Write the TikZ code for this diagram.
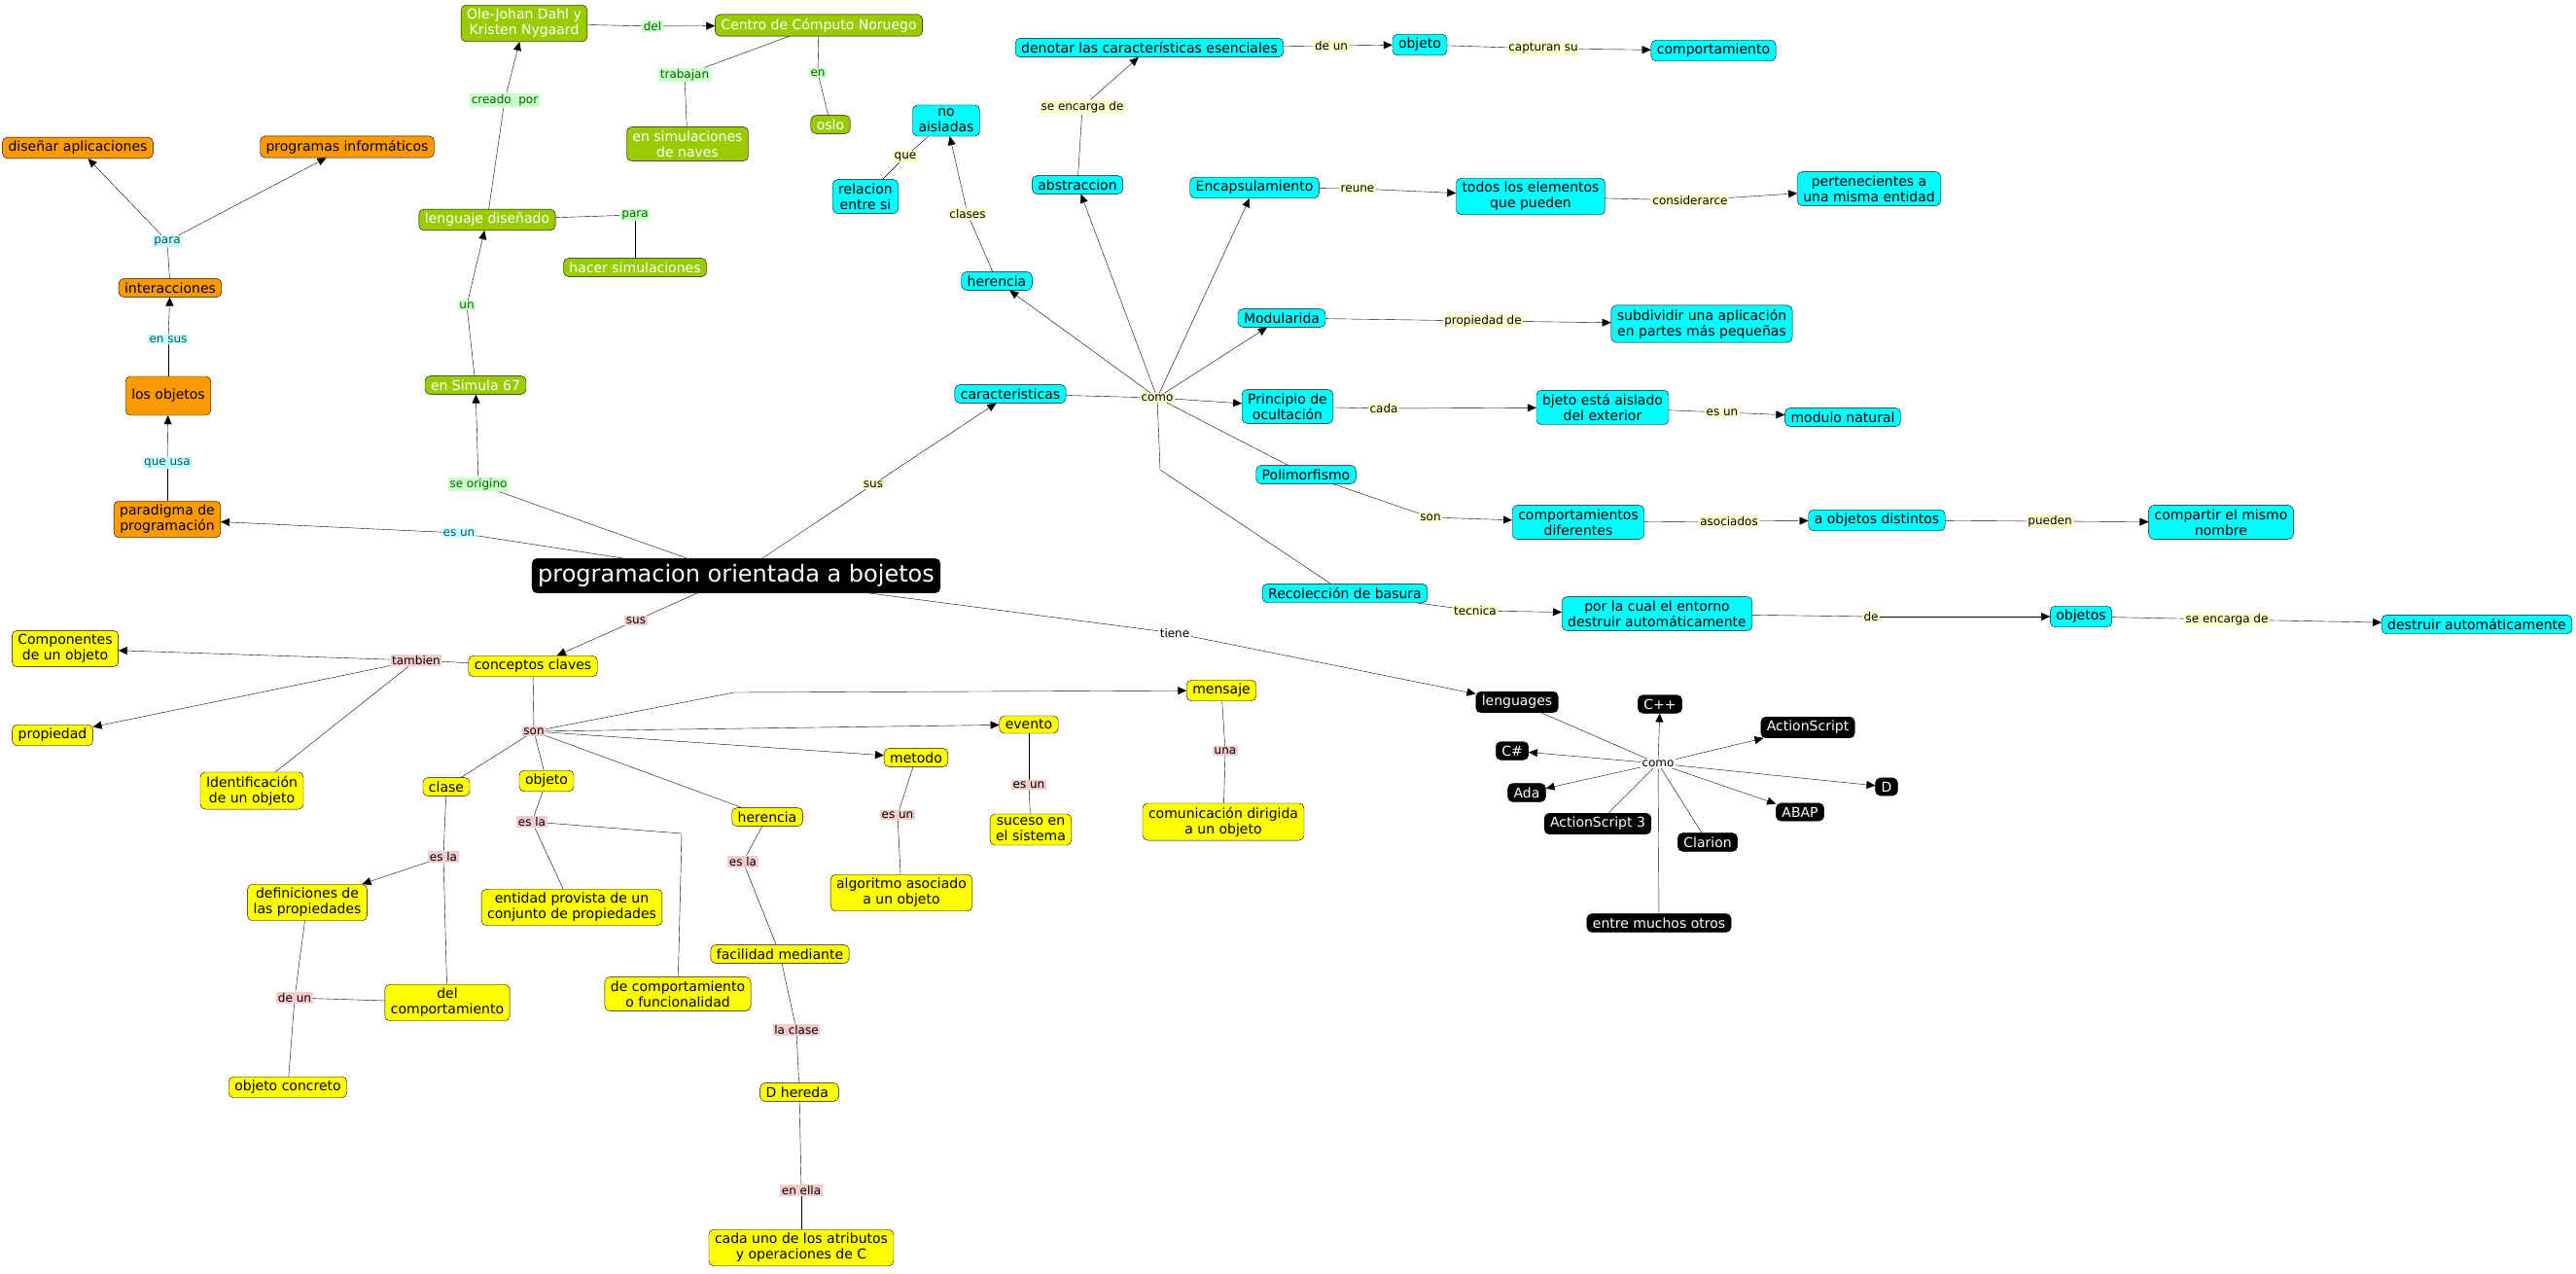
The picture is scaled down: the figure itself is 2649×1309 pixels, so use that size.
\documentclass[tikz,border=0pt]{standalone}
\usepackage{fontspec}
\setmainfont{DejaVu Sans}
\usetikzlibrary{positioning,arrows.meta}
\definecolor{cmcyan}{RGB}{0,255,255}
\definecolor{cmyellow}{RGB}{255,255,0}
\definecolor{cmorange}{RGB}{255,153,0}
\definecolor{cmgreen}{RGB}{153,204,0}
\definecolor{lblyellow}{RGB}{255,255,204}
\definecolor{lblpink}{RGB}{245,204,204}
\definecolor{lblcyan}{RGB}{204,255,255}
\definecolor{lblgreen}{RGB}{204,255,204}
\begin{document}
\begin{tikzpicture}
  [x=1pt,y=-1pt,>={Triangle[length=9pt,width=8pt]},
  base/.style={rounded corners=5pt,draw=black,align=center,inner xsep=6pt,inner ysep=4pt,font=\fontsize{14}{16}\selectfont},
  cyanc/.style={base,fill=cmcyan},
  yellowc/.style={base,fill=cmyellow},
  orangec/.style={base,fill=cmorange},
  greenc/.style={base,fill=cmgreen,text=white},
  blackc/.style={base,fill=black,text=white},
  lbl/.style={inner sep=1.5pt,font=\fontsize{12}{14}\selectfont},
  lc/.style={lbl,fill=lblyellow},
  ly/.style={lbl,fill=lblpink},
  lo/.style={lbl,fill=lblcyan,text=teal!70!black},
  lg/.style={lbl,fill=lblgreen,text=green!40!black}]
  \useasboundingbox (0,0) rectangle (2649,1309);

  \node [blackc,font=\fontsize{24}{27}\selectfont,inner ysep=6pt] (main) at (757,592) {programacion orientada a bojetos};

  % orange
  \node [orangec] (paradigma) at (172,534) {paradigma de\\programación};
  \node [orangec,minimum height=40pt] (objetos) at (173,407) {los objetos};
  \node [orangec] (interacciones) at (175,296) {interacciones};
  \node [orangec] (disenar) at (80,152) {diseñar aplicaciones};
  \node [orangec] (programas) at (357,151) {programas informáticos};
  \node [lo] (l-esun) at (472,548) {es un};
  \node [lo] (l-queusa) at (172,476) {que usa};
  \node [lo] (l-ensus) at (173,349) {en sus};
  \node [lo] (l-para) at (172,248) {para};
  \draw (main) -- (l-esun); \draw [->] (l-esun) -- (paradigma);
  \draw (paradigma) -- (l-queusa); \draw [->] (l-queusa) -- (objetos);
  \draw (objetos) -- (l-ensus); \draw [->] (l-ensus) -- (interacciones);
  \draw (interacciones) -- (l-para);
  \draw [->] (l-para) -- (disenar); \draw [->] (l-para) -- (programas);

  % green
  \node [greenc] (simula) at (489,396) {en Simula 67};
  \node [greenc] (lenguaje) at (501,226) {lenguaje diseñado};
  \node [greenc] (olejohan) at (539,24) {Ole-Johan Dahl y\\Kristen Nygaard};
  \node [greenc] (centro) at (842,26) {Centro de Cómputo Noruego};
  \node [greenc] (naves) at (707,148) {en simulaciones\\de naves};
  \node [greenc] (oslo) at (854,128) {oslo};
  \node [greenc] (hacer) at (653,275) {hacer simulaciones};
  \node [lg] (l-origino) at (492,498) {se origino};
  \node [lg] (l-un) at (480,314) {un};
  \node [lg] (l-creado) at (519,103) {creado \ por};
  \node [lg] (l-del) at (671,27) {del};
  \node [lg] (l-trabajan) at (704,77) {trabajan};
  \node [lg] (l-en) at (841,75) {en};
  \node [lg] (l-parag) at (653,221) {para};
  \draw (main) -- (l-origino); \draw [->] (l-origino) -- (simula);
  \draw (simula) -- (l-un); \draw [->] (l-un) -- (lenguaje);
  \draw (lenguaje) -- (l-creado); \draw [->] (l-creado) -- (olejohan);
  \draw (olejohan) -- (l-del); \draw [->] (l-del) -- (centro);
  \draw (centro) -- (l-trabajan); \draw (l-trabajan) -- (naves);
  \draw (centro) -- (l-en); \draw (l-en) -- (oslo);
  \draw (lenguaje) -- (l-parag); \draw (l-parag) -- (hacer);

  % cyan
  \node [cyanc] (caracteristicas) at (1039,405) {caracteristicas};
  \node [cyanc] (herencia) at (1025,289) {herencia};
  \node [cyanc] (noaisladas) at (973,124) {no\\aisladas};
  \node [cyanc] (relacion) at (890,202) {relacion\\entre si};
  \node [cyanc] (abstraccion) at (1108,190) {abstraccion};
  \node [cyanc] (denotar) at (1182,49) {denotar las características esenciales};
  \node [cyanc] (objetoc) at (1460,46) {objeto};
  \node [cyanc] (comportamiento) at (1762,52) {comportamiento};
  \node [cyanc] (encaps) at (1290,193) {Encapsulamiento};
  \node [cyanc] (todos) at (1574,202) {todos los elementos\\que pueden};
  \node [cyanc] (pertenecientes) at (1922,194) {pertenecientes a\\una misma entidad};
  \node [cyanc] (modularida) at (1318,327) {Modularida};
  \node [cyanc] (subdividir) at (1750,333) {subdividir una aplicación\\en partes más pequeñas};
  \node [cyanc] (principio) at (1324,418) {Principio de\\ocultación};
  \node [cyanc] (bjeto) at (1648,419) {bjeto está aislado\\del exterior};
  \node [cyanc] (modulo) at (1895,429) {modulo natural};
  \node [cyanc] (polimorf) at (1343,488) {Polimorfismo};
  \node [cyanc] (comportamientos) at (1623,537) {comportamientos\\diferentes};
  \node [cyanc] (aobjetos) at (1930,535) {a objetos distintos};
  \node [cyanc] (compartir) at (2284,537) {compartir el mismo\\nombre};
  \node [cyanc] (recoleccion) at (1383,610) {Recolección de basura};
  \node [cyanc] (porlacual) at (1704,631) {por la cual el entorno\\destruir automáticamente};
  \node [cyanc] (objetos2) at (2140,634) {objetos};
  \node [cyanc] (destruir) at (2547,642) {destruir automáticamente};
  \node [lc] (l-sus) at (898,498) {sus};
  \node [lc] (l-como) at (1190,409) {como};
  \node [lc] (l-clases) at (995,220) {clases};
  \node [lc] (l-que) at (931,161) {que};
  \node [lc] (l-encarga) at (1113,110) {se encarga de};
  \node [lc] (l-deun) at (1369,47) {de un};
  \node [lc] (l-capturan) at (1587,50) {capturan su};
  \node [lc] (l-reune) at (1396,194) {reune};
  \node [lc] (l-consid) at (1738,206) {considerarce};
  \node [lc] (l-propiedad) at (1525,330) {propiedad de};
  \node [lc] (l-cada) at (1423,420) {cada};
  \node [lc] (l-esunc) at (1771,424) {es un};
  \node [lc] (l-son) at (1471,532) {son};
  \node [lc] (l-asociados) at (1778,536) {asociados};
  \node [lc] (l-pueden) at (2108,536) {pueden};
  \node [lc] (l-tecnica) at (1517,628) {tecnica};
  \node [lc] (l-de) at (1924,634) {de};
  \node [lc] (l-encarga2) at (2290,637) {se encarga de};
  \coordinate (bend1) at (1193,483);
  \draw (main) -- (l-sus); \draw [->] (l-sus) -- (caracteristicas);
  \draw (caracteristicas) -- (l-como);
  \draw [->] (l-como) -- (herencia);
  \draw [->] (l-como) -- (abstraccion);
  \draw [->] (l-como) -- (encaps);
  \draw [->] (l-como) -- (modularida);
  \draw [->] (l-como) -- (principio);
  \draw (l-como) -- (polimorf);
  \draw (l-como) -- (bend1) -- (recoleccion);
  \draw (herencia) -- (l-clases); \draw [->] (l-clases) -- (noaisladas);
  \draw (noaisladas) -- (l-que); \draw (l-que) -- (relacion);
  \draw (abstraccion) -- (l-encarga); \draw [->] (l-encarga) -- (denotar);
  \draw (denotar) -- (l-deun); \draw [->] (l-deun) -- (objetoc);
  \draw (objetoc) -- (l-capturan); \draw [->] (l-capturan) -- (comportamiento);
  \draw (encaps) -- (l-reune); \draw [->] (l-reune) -- (todos);
  \draw (todos) -- (l-consid); \draw [->] (l-consid) -- (pertenecientes);
  \draw (modularida) -- (l-propiedad); \draw [->] (l-propiedad) -- (subdividir);
  \draw (principio) -- (l-cada); \draw [->] (l-cada) -- (bjeto);
  \draw (bjeto) -- (l-esunc); \draw [->] (l-esunc) -- (modulo);
  \draw (polimorf) -- (l-son); \draw [->] (l-son) -- (comportamientos);
  \draw (comportamientos) -- (l-asociados); \draw [->] (l-asociados) -- (aobjetos);
  \draw (aobjetos) -- (l-pueden); \draw [->] (l-pueden) -- (compartir);
  \draw (recoleccion) -- (l-tecnica); \draw [->] (l-tecnica) -- (porlacual);
  \draw (porlacual) -- (l-de); \draw [->] (l-de) -- (objetos2);
  \draw (objetos2) -- (l-encarga2); \draw [->] (l-encarga2) -- (destruir);

  % yellow
  \node [yellowc] (conceptos) at (548,685) {conceptos claves};
  \node [yellowc] (componentes) at (67,667) {Componentes\\de un objeto};
  \node [yellowc] (propiedad) at (54,756) {propiedad};
  \node [yellowc] (identificacion) at (259,813) {Identificación\\de un objeto};
  \node [yellowc] (clase) at (459,809) {clase};
  \node [yellowc] (objetoy) at (562,803) {objeto};
  \node [yellowc] (herenciay) at (789,840) {herencia};
  \node [yellowc] (metodo) at (942,779) {metodo};
  \node [yellowc] (evento) at (1058,745) {evento};
  \node [yellowc] (mensaje) at (1256,710) {mensaje};
  \node [yellowc] (definiciones) at (316,928) {definiciones de\\las propiedades};
  \node [yellowc] (entidad) at (588,933) {entidad provista de un\\conjunto de propiedades};
  \node [yellowc] (delcomp) at (460,1031) {del\\comportamiento};
  \node [yellowc] (decomp) at (697,1022) {de comportamiento\\o funcionalidad};
  \node [yellowc] (facilidad) at (802,981) {facilidad mediante};
  \node [yellowc] (algoritmo) at (927,918) {algoritmo asociado\\a un objeto};
  \node [yellowc] (suceso) at (1060,853) {suceso en\\el sistema};
  \node [yellowc] (comunicacion) at (1258,845) {comunicación dirigida\\a un objeto};
  \node [yellowc] (objconcreto) at (296,1118) {objeto concreto};
  \node [yellowc] (dhereda) at (822,1123) {D hereda\ };
  \node [yellowc] (cadauno) at (824,1283) {cada uno de los atributos\\y operaciones de C};
  \node [ly] (l-susy) at (654,638) {sus};
  \node [ly] (l-tambien) at (428,679) {tambien};
  \node [ly] (l-sony) at (549,752) {son};
  \node [ly] (l-eslac) at (456,881) {es la};
  \node [ly] (l-eslao) at (547,845) {es la};
  \node [ly] (l-eslah) at (764,886) {es la};
  \node [ly] (l-deuny) at (303,1026) {de un};
  \node [ly] (l-laclase) at (819,1059) {la clase};
  \node [ly] (l-enella) at (824,1224) {en ella};
  \node [ly] (l-esunm) at (923,838) {es un};
  \node [ly] (l-esune) at (1058,807) {es un};
  \node [ly] (l-una) at (1260,772) {una};
  \coordinate (bend2) at (755,712);
  \coordinate (bend3) at (701,857);
  \draw (main) -- (l-susy); \draw [->] (l-susy) -- (conceptos);
  \draw (conceptos) -- (l-tambien);
  \draw [->] (l-tambien) -- (componentes);
  \draw [->] (l-tambien) -- (propiedad);
  \draw (l-tambien) -- (identificacion);
  \draw (conceptos) -- (l-sony);
  \draw (l-sony) -- (clase); \draw (l-sony) -- (objetoy); \draw (l-sony) -- (herenciay);
  \draw [->] (l-sony) -- (metodo); \draw [->] (l-sony) -- (evento);
  \draw [->] (l-sony) -- (bend2) -- (mensaje);
  \draw (clase) -- (l-eslac); \draw [->] (l-eslac) -- (definiciones); \draw (l-eslac) -- (delcomp);
  \draw (objetoy) -- (l-eslao); \draw (l-eslao) -- (entidad); \draw (l-eslao) -- (bend3) -- (decomp);
  \draw (herenciay) -- (l-eslah); \draw (l-eslah) -- (facilidad);
  \draw (facilidad) -- (l-laclase); \draw (l-laclase) -- (dhereda);
  \draw (dhereda) -- (l-enella); \draw (l-enella) -- (cadauno);
  \draw (definiciones) -- (l-deuny); \draw (delcomp) -- (l-deuny); \draw (l-deuny) -- (objconcreto);
  \draw (metodo) -- (l-esunm); \draw (l-esunm) -- (algoritmo);
  \draw (evento) -- (l-esune); \draw (l-esune) -- (suceso);
  \draw (mensaje) -- (l-una); \draw (l-una) -- (comunicacion);

  % black
  \node [blackc] (lenguages) at (1560,722) {lenguages};
  \node [lbl,fill=white] (l-como2) at (1705,785) {como};
  \node [blackc] (cpp) at (1707,724) {C++};
  \node [blackc] (actionscript) at (1859,748) {ActionScript};
  \node [blackc] (csharp) at (1555,772) {C\#};
  \node [blackc] (ada) at (1570,815) {Ada};
  \node [blackc] (actionscript3) at (1643,847) {ActionScript 3};
  \node [blackc] (clarion) at (1756,866) {Clarion};
  \node [blackc] (abap) at (1851,835) {ABAP};
  \node [blackc] (d) at (1940,809) {D};
  \node [blackc] (muchos) at (1706,949) {entre muchos otros};
  \node [lbl,fill=white] (l-tiene) at (1208,651) {tiene};
  \draw (main) -- (l-tiene); \draw [->] (l-tiene) -- (lenguages);
  \draw (lenguages) -- (l-como2);
  \draw [->] (l-como2) -- (cpp); \draw [->] (l-como2) -- (actionscript);
  \draw [->] (l-como2) -- (csharp); \draw [->] (l-como2) -- (ada);
  \draw [->] (l-como2) -- (d); \draw [->] (l-como2) -- (abap);
  \draw (l-como2) -- (actionscript3); \draw (l-como2) -- (clarion);
  \draw (l-como2) -- (muchos);
\end{tikzpicture}
\end{document}
